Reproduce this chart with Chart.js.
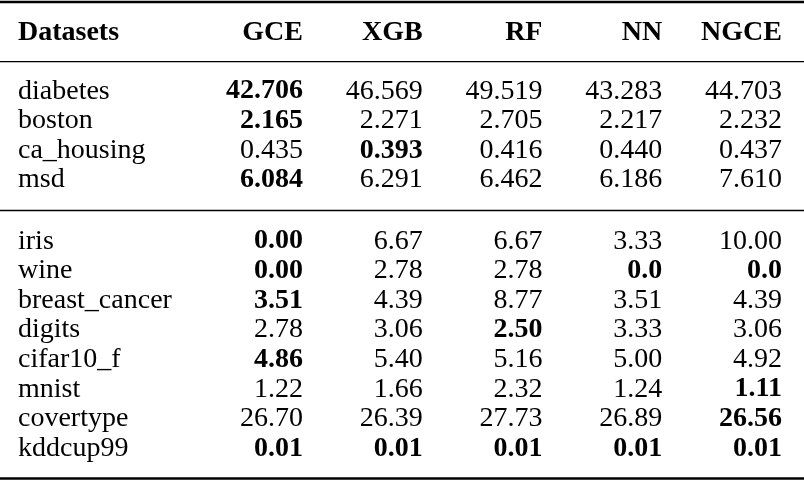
<!DOCTYPE html>
<html>
<head>
<meta charset="utf-8">
<script src="https://cdn.jsdelivr.net/npm/chart.js@4"></script>
<style>
  html, body { margin: 0; padding: 0; background: #fff; }
  #wrap { width: 804px; height: 481px; }
</style>
</head>
<body>
<div id="wrap"><canvas id="table-chart"></canvas></div>
<script>
// table contents
const columns = ['GCE', 'XGB', 'RF', 'NN', 'NGCE'];
const regressionRows = ['diabetes', 'boston', 'ca_housing', 'msd'];
const regressionValues = [
  ['42.706', '46.569', '49.519', '43.283', '44.703'],
  ['2.165', '2.271', '2.705', '2.217', '2.232'],
  ['0.435', '0.393', '0.416', '0.440', '0.437'],
  ['6.084', '6.291', '6.462', '6.186', '7.610']
];
const regressionBold = [[0], [0], [1], [0]];
const classificationRows = ['iris', 'wine', 'breast_cancer', 'digits', 'cifar10_f', 'mnist', 'covertype', 'kddcup99'];
const classificationValues = [
  ['0.00', '6.67', '6.67', '3.33', '10.00'],
  ['0.00', '2.78', '2.78', '0.0', '0.0'],
  ['3.51', '4.39', '8.77', '3.51', '4.39'],
  ['2.78', '3.06', '2.50', '3.33', '3.06'],
  ['4.86', '5.40', '5.16', '5.00', '4.92'],
  ['1.22', '1.66', '2.32', '1.24', '1.11'],
  ['26.70', '26.39', '27.73', '26.89', '26.56'],
  ['0.01', '0.01', '0.01', '0.01', '0.01']
];
const classificationBold = [[0], [0, 3, 4], [0], [2], [0], [4], [4], [0, 1, 2, 3, 4]];

// row positions in table units (header = 0)
const rowPos = [];
regressionRows.forEach((r, i) => rowPos.push(1.95 + i * 0.98));
classificationRows.forEach((r, i) => rowPos.push(6.92 + i * 0.98));
const allRows = regressionRows.concat(classificationRows);
const allValues = regressionValues.concat(classificationValues);
const allBold = regressionBold.concat(classificationBold);
const rules = [{ v: -1.0, w: 2.5 }, { v: 0.97, w: 1.2 }, { v: 5.9, w: 1.6 }, { v: 14.78, w: 2.5 }];

const FONT = '"Times New Roman", "Liberation Serif", Tinos, serif';

const tablePlugin = {
  id: 'tableText',
  afterDraw(chart) {
    const c = chart.ctx;
    const xs = chart.scales.x, ys = chart.scales.y;
    const left = xs.getPixelForValue(xs.min);
    c.save();
    c.fillStyle = '#000';
    c.strokeStyle = '#000';
    rules.forEach(r => {
      const y = ys.getPixelForValue(r.v);
      c.lineWidth = r.w;
      c.beginPath(); c.moveTo(0, y); c.lineTo(chart.width, y); c.stroke();
    });
    c.textBaseline = 'middle';
    // header
    const hy = ys.getPixelForValue(0);
    c.font = 'bold 28px ' + FONT;
    c.textAlign = 'left';
    c.fillText('Datasets', left + 18, hy);
    c.textAlign = 'right';
    columns.forEach((col, j) => c.fillText(col, xs.getPixelForValue(j), hy));
    // body
    allRows.forEach((name, i) => {
      const y = ys.getPixelForValue(rowPos[i]);
      c.font = '28px ' + FONT;
      c.textAlign = 'left';
      c.fillText(name, left + 18, y);
      c.textAlign = 'right';
      allValues[i].forEach((val, j) => {
        c.font = (allBold[i].includes(j) ? 'bold ' : '') + '28px ' + FONT;
        c.fillText(val, xs.getPixelForValue(j), y);
      });
    });
    c.restore();
  }
};

new Chart(document.getElementById('table-chart'), {
  type: 'scatter',
  data: { datasets: [{ data: [], pointRadius: 0 }] },
  options: {
    responsive: true,
    maintainAspectRatio: false,
    animation: false,
    layout: { padding: 0 },
    plugins: { legend: { display: false }, tooltip: { enabled: false } },
    scales: {
      x: { type: 'linear', display: false, min: -2.53, max: 4.184 },
      y: { type: 'linear', display: false, reverse: true, min: -1.07, max: 14.86 }
    }
  },
  plugins: [tablePlugin]
});
</script>
</body>
</html>
